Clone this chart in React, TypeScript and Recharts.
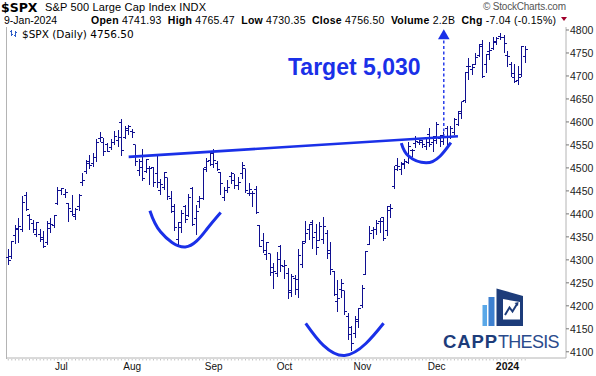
import { Bar, ComposedChart, Line, ReferenceDot, ReferenceLine, XAxis, YAxis } from "recharts"

const ARIAL = "Liberation Sans, Arial, sans-serif"
const VERDANA = "DejaVu Sans, Verdana, sans-serif"
const BAR_COLOR = "#101090"
const MARK_BLUE = "#1a30e8"
const FRAME = "#b4b4b4"

// Daily S&P 500 bars, 9-Jun-2023 .. 9-Jan-2024
const DATES = [
  "2023-06-09", "2023-06-12", "2023-06-13", "2023-06-14", "2023-06-15", "2023-06-16", "2023-06-20", "2023-06-21",
  "2023-06-22", "2023-06-23", "2023-06-26", "2023-06-27", "2023-06-28", "2023-06-29", "2023-06-30",
  "2023-07-03", "2023-07-05", "2023-07-06", "2023-07-07", "2023-07-10", "2023-07-11", "2023-07-12", "2023-07-13",
  "2023-07-14", "2023-07-17", "2023-07-18", "2023-07-19", "2023-07-20", "2023-07-21", "2023-07-24", "2023-07-25",
  "2023-07-26", "2023-07-27", "2023-07-28", "2023-07-31",
  "2023-08-01", "2023-08-02", "2023-08-03", "2023-08-04", "2023-08-07", "2023-08-08", "2023-08-09", "2023-08-10",
  "2023-08-11", "2023-08-14", "2023-08-15", "2023-08-16", "2023-08-17", "2023-08-18", "2023-08-21", "2023-08-22",
  "2023-08-23", "2023-08-24", "2023-08-25", "2023-08-28", "2023-08-29", "2023-08-30", "2023-08-31",
  "2023-09-01", "2023-09-05", "2023-09-06", "2023-09-07", "2023-09-08", "2023-09-11", "2023-09-12", "2023-09-13",
  "2023-09-14", "2023-09-15", "2023-09-18", "2023-09-19", "2023-09-20", "2023-09-21", "2023-09-22", "2023-09-25",
  "2023-09-26", "2023-09-27", "2023-09-28", "2023-09-29",
  "2023-10-02", "2023-10-03", "2023-10-04", "2023-10-05", "2023-10-06", "2023-10-09", "2023-10-10", "2023-10-11",
  "2023-10-12", "2023-10-13", "2023-10-16", "2023-10-17", "2023-10-18", "2023-10-19", "2023-10-20", "2023-10-23",
  "2023-10-24", "2023-10-25", "2023-10-26", "2023-10-27", "2023-10-30", "2023-10-31",
  "2023-11-01", "2023-11-02", "2023-11-03", "2023-11-06", "2023-11-07", "2023-11-08", "2023-11-09", "2023-11-10",
  "2023-11-13", "2023-11-14", "2023-11-15", "2023-11-16", "2023-11-17", "2023-11-20", "2023-11-21", "2023-11-22",
  "2023-11-24", "2023-11-27", "2023-11-28", "2023-11-29", "2023-11-30",
  "2023-12-01", "2023-12-04", "2023-12-05", "2023-12-06", "2023-12-07", "2023-12-08", "2023-12-11", "2023-12-12",
  "2023-12-13", "2023-12-14", "2023-12-15", "2023-12-18", "2023-12-19", "2023-12-20", "2023-12-21", "2023-12-22",
  "2023-12-26", "2023-12-27", "2023-12-28", "2023-12-29",
  "2024-01-02", "2024-01-03", "2024-01-04", "2024-01-05", "2024-01-08", "2024-01-09",
]

const OPEN = [
  4304.9, 4308.3, 4352.6, 4366.3, 4365.3, 4441.0, 4396.1, 4380.0, 4355.4, 4354.2, 4344.8, 4337.4, 4367.5, 4374.9, 4422.4,
  4450.5, 4442.0, 4422.6, 4404.5, 4394.2, 4415.6, 4467.7, 4491.5, 4514.6, 4508.9, 4521.8, 4563.9, 4554.4, 4550.2, 4543.4,
  4555.2, 4559.0, 4598.3, 4565.8, 4584.8,
  4578.8, 4550.9, 4494.3, 4514.0, 4491.6, 4498.0, 4501.6, 4487.2, 4450.7, 4458.1, 4478.9, 4433.8, 4416.3, 4344.9, 4380.3,
  4415.3, 4396.4, 4455.2, 4389.4, 4426.0, 4432.8, 4500.3, 4517.0,
  4530.6, 4510.1, 4490.4, 4434.6, 4451.3, 4481.0, 4473.3, 4462.7, 4487.8, 4498.0, 4445.1, 4445.4, 4452.8, 4374.4, 4341.7,
  4310.6, 4312.9, 4282.6, 4269.7, 4328.2,
  4284.5, 4269.8, 4233.8, 4259.3, 4234.8, 4289.0, 4339.8, 4366.6, 4380.9, 4360.5, 4342.4, 4345.2, 4357.4, 4321.4, 4273.9,
  4210.4, 4235.8, 4232.4, 4176.0, 4152.9, 4139.4, 4171.3,
  4201.3, 4268.3, 4334.2, 4364.3, 4366.2, 4384.4, 4391.4, 4364.2, 4406.7, 4459.0, 4505.3, 4497.1, 4509.6, 4511.7, 4538.8,
  4553.0, 4555.8, 4554.9, 4545.6, 4571.8, 4554.9,
  4559.4, 4564.4, 4557.3, 4586.2, 4568.8, 4576.2, 4593.4, 4618.3, 4646.2, 4721.0, 4714.2, 4725.6, 4743.7, 4764.7, 4724.3,
  4753.9, 4758.9, 4773.5, 4786.4, 4782.9,
  4745.2, 4725.1, 4697.4, 4690.6, 4703.7, 4741.9,
]

const HIGH = [
  4322.6, 4340.1, 4375.4, 4391.8, 4439.2, 4448.5, 4400.2, 4386.2, 4382.3, 4366.6, 4362.1, 4384.4, 4390.4, 4398.4, 4458.5,
  4456.5, 4454.1, 4422.6, 4440.4, 4412.6, 4443.6, 4488.3, 4517.4, 4527.8, 4532.9, 4562.3, 4578.4, 4564.7, 4555.0, 4563.4,
  4580.6, 4582.5, 4607.1, 4590.2, 4594.2,
  4584.6, 4550.9, 4519.5, 4540.3, 4519.8, 4503.3, 4502.4, 4527.4, 4476.2, 4490.3, 4478.9, 4450.0, 4421.2, 4381.8, 4407.6,
  4418.6, 4443.2, 4458.3, 4418.5, 4439.6, 4500.1, 4521.7, 4532.3,
  4541.3, 4514.3, 4490.4, 4457.8, 4473.5, 4490.8, 4487.1, 4479.4, 4512.0, 4498.0, 4466.4, 4449.9, 4461.0, 4375.7, 4357.4,
  4338.5, 4313.0, 4292.1, 4317.3, 4333.2,
  4300.6, 4281.2, 4268.5, 4267.1, 4324.1, 4341.7, 4385.5, 4378.6, 4385.9, 4377.1, 4383.3, 4393.6, 4364.2, 4339.5, 4276.6,
  4255.8, 4259.4, 4232.4, 4183.6, 4156.7, 4177.5, 4195.0,
  4245.6, 4319.7, 4373.6, 4372.2, 4386.3, 4391.2, 4393.4, 4418.0, 4421.8, 4504.1, 4521.2, 4512.0, 4520.1, 4557.1, 4542.1,
  4568.4, 4560.3, 4560.5, 4568.1, 4587.6, 4569.9,
  4599.4, 4572.4, 4578.6, 4590.7, 4590.9, 4609.2, 4623.7, 4643.9, 4709.7, 4738.6, 4725.5, 4749.5, 4768.7, 4778.0, 4748.7,
  4772.9, 4784.7, 4785.4, 4793.3, 4788.4,
  4754.3, 4729.3, 4726.8, 4721.5, 4764.5, 4765.5,
]

const LOW = [
  4291.7, 4304.4, 4337.5, 4337.9, 4362.6, 4407.4, 4367.2, 4360.1, 4351.8, 4341.3, 4328.1, 4335.0, 4360.2, 4372.0, 4422.4,
  4442.3, 4436.6, 4385.1, 4397.4, 4389.9, 4408.5, 4463.2, 4489.4, 4499.6, 4504.9, 4514.6, 4557.5, 4527.6, 4535.8, 4541.3,
  4552.4, 4547.6, 4528.6, 4564.0, 4573.1,
  4567.5, 4505.8, 4485.5, 4474.6, 4491.2, 4464.4, 4461.3, 4457.9, 4444.0, 4453.4, 4432.2, 4403.6, 4364.8, 4335.3, 4360.3,
  4382.8, 4396.4, 4375.6, 4356.3, 4415.0, 4431.7, 4493.6, 4507.4,
  4501.4, 4496.0, 4442.4, 4430.5, 4448.4, 4467.9, 4456.8, 4453.5, 4478.7, 4447.2, 4442.1, 4416.6, 4401.4, 4329.2, 4316.5,
  4302.7, 4266.0, 4238.6, 4264.4, 4274.9,
  4260.2, 4216.5, 4220.5, 4225.9, 4219.6, 4283.8, 4339.6, 4345.3, 4325.4, 4312.0, 4342.4, 4337.5, 4303.8, 4269.7, 4223.0,
  4189.2, 4219.4, 4181.4, 4127.9, 4103.8, 4132.9, 4153.1,
  4197.7, 4268.3, 4334.2, 4347.5, 4355.4, 4359.8, 4343.9, 4353.3, 4393.8, 4456.8, 4495.3, 4487.8, 4499.7, 4510.4, 4525.5,
  4545.1, 4552.8, 4546.3, 4540.5, 4547.2, 4537.2,
  4554.7, 4546.7, 4551.7, 4546.5, 4565.2, 4574.1, 4593.4, 4608.1, 4643.2, 4694.3, 4704.7, 4725.6, 4743.7, 4697.8, 4708.4,
  4736.8, 4758.5, 4768.9, 4781.0, 4752.0,
  4722.7, 4699.7, 4687.5, 4682.1, 4699.8, 4730.4,
]

const CLOSE = [
  4298.9, 4338.9, 4369.0, 4372.6, 4425.8, 4409.6, 4388.7, 4365.7, 4381.9, 4348.3, 4328.8, 4378.4, 4376.9, 4396.4, 4450.4,
  4455.6, 4446.8, 4411.6, 4399.0, 4409.5, 4439.3, 4472.2, 4510.0, 4505.4, 4522.8, 4555.0, 4565.7, 4534.9, 4536.3, 4554.6,
  4567.5, 4566.8, 4537.4, 4582.2, 4589.0,
  4576.7, 4513.4, 4501.9, 4478.0, 4518.4, 4499.4, 4467.7, 4468.8, 4464.1, 4489.7, 4437.9, 4404.3, 4370.4, 4369.7, 4399.8,
  4387.6, 4436.0, 4376.3, 4405.7, 4433.3, 4497.6, 4514.9, 4507.7,
  4515.8, 4496.8, 4465.5, 4451.1, 4457.5, 4487.5, 4461.9, 4467.4, 4505.1, 4450.3, 4453.5, 4444.0, 4402.2, 4330.0, 4320.1,
  4337.4, 4273.5, 4274.5, 4299.7, 4288.1,
  4288.4, 4229.5, 4263.8, 4258.2, 4308.5, 4335.7, 4358.2, 4377.0, 4349.6, 4327.8, 4373.6, 4373.2, 4314.6, 4278.0, 4224.2,
  4217.0, 4247.7, 4186.8, 4137.2, 4117.4, 4166.8, 4193.8,
  4237.9, 4317.8, 4358.3, 4366.0, 4378.4, 4382.8, 4347.4, 4415.2, 4411.6, 4495.7, 4502.9, 4508.2, 4514.0, 4547.4, 4538.2,
  4556.6, 4559.3, 4550.4, 4554.9, 4550.6, 4567.8,
  4594.6, 4569.8, 4567.2, 4549.3, 4585.6, 4604.4, 4622.4, 4643.7, 4707.1, 4719.6, 4719.2, 4740.6, 4768.4, 4698.4, 4746.8,
  4754.6, 4774.8, 4781.6, 4783.4, 4769.8,
  4742.8, 4704.8, 4688.7, 4697.2, 4763.5, 4756.5,
]

const MONTH_LABELS: Record<string, string> = {
  "2023-07-03": "Jul",
  "2023-08-01": "Aug",
  "2023-09-01": "Sep",
  "2023-10-02": "Oct",
  "2023-11-01": "Nov",
  "2023-12-01": "Dec",
  "2024-01-02": "2024",
}

const Y_TICKS = [4100, 4150, 4200, 4250, 4300, 4350, 4400, 4450, 4500, 4550, 4600, 4650, 4700, 4750, 4800]

// hand-drawn annotations as [date, price]
const NECKLINE: [string, number][] = [["2023-07-31", 4524], ["2023-12-11", 4569]]
const ARC_AUG: [string, number][] = [
  ["2023-08-08", 4407], ["2023-08-11", 4361], ["2023-08-22", 4328], ["2023-08-30", 4366], ["2023-09-06", 4403],
]
const ARC_OCT: [string, number][] = [
  ["2023-10-10", 4162], ["2023-10-17", 4114], ["2023-10-25", 4092], ["2023-11-02", 4118], ["2023-11-09", 4162],
]
const ARC_DEC: [string, number][] = [
  ["2023-11-16", 4554], ["2023-11-20", 4526], ["2023-11-28", 4511], ["2023-12-04", 4526], ["2023-12-07", 4555],
]
const TARGET_ARROW: [string, number, number] = ["2023-12-05", 4567, 4780]

const rows = DATES.map((date, i) => {
  const row: Record<string, unknown> = {
    date,
    range: [LOW[i], HIGH[i]],
    open: OPEN[i],
    high: HIGH[i],
    low: LOW[i],
    close: CLOSE[i],
  }
  for (const [key, pts] of [["arcAug", ARC_AUG], ["arcOct", ARC_OCT], ["arcDec", ARC_DEC]] as const) {
    const hit = pts.find((p) => p[0] === date)
    if (hit) row[key] = hit[1]
  }
  return row
})

function OhlcBar(props: any) {
  const { x, y, width, height, payload } = props
  if (!payload || height == null) return null
  const top = Math.min(y, y + height)
  const bottom = Math.max(y, y + height)
  const span = payload.high - payload.low || 1
  const toY = (v: number) => Math.round(top + ((payload.high - v) / span) * (bottom - top) - 0.5) + 0.5
  const cx = Math.floor(x + width / 2) + 0.5
  return (
    <g stroke={BAR_COLOR} strokeWidth={1}>
      <line x1={cx} x2={cx} y1={Math.round(top)} y2={Math.round(bottom) + 1} />
      <line x1={cx - 2.5} x2={cx} y1={toY(payload.open)} y2={toY(payload.open)} />
      <line x1={cx} x2={cx + 2.5} y1={toY(payload.close)} y2={toY(payload.close)} />
    </g>
  )
}

function DayTick({ x, y, payload }: any) {
  const label = MONTH_LABELS[payload.value]
  return (
    <g>
      <line x1={x} x2={x} y1={y + 1} y2={y + 2.5} stroke="#c4c4c4" />
      {label ? (
        <text
          x={x}
          y={y + 12}
          textAnchor="middle"
          fontFamily={ARIAL}
          fontSize={label === "2024" ? 10.5 : 10}
          fontWeight={label === "2024" ? "bold" : "normal"}
          fill="#111"
        >
          {label}
        </text>
      ) : null}
    </g>
  )
}

function ArrowHead({ cx, cy }: any) {
  return <path d={`M${cx - 5.8},${cy} L${cx + 5.8},${cy} L${cx},${cy - 10} Z`} fill={MARK_BLUE} />
}

function Header() {
  const bold = { fontWeight: "bold" as const }
  return (
    <svg width={596} height={376} style={{ position: "absolute", left: 0, top: 0, pointerEvents: "none" }}>
      <text x={1} y={11.5} fontFamily={VERDANA} fontWeight="bold" fontSize={12.5}>$SPX</text>
      <text x={45} y={11} fontFamily={ARIAL} fontSize={11} textLength={161} lengthAdjust="spacing">
        {"S&P 500 Large Cap Index INDX"}
      </text>
      <text x={483} y={10} fontFamily={ARIAL} fontSize={10} fill="#555" textLength={83}>{"\u00a9 StockCharts.com"}</text>

      <text x={4} y={23.5} fontFamily={ARIAL} fontSize={10.5}>9-Jan-2024</text>
      <text
        x={91}
        y={23.5}
        fontFamily={ARIAL}
        fontSize={10.5}
        textLength={465}
        lengthAdjust="spacing"
        style={{ whiteSpace: "pre" }}
      >
        <tspan {...bold}>Open</tspan>
        <tspan>{" 4741.93  "}</tspan>
        <tspan {...bold}>High</tspan>
        <tspan>{" 4765.47  "}</tspan>
        <tspan {...bold}>Low</tspan>
        <tspan>{" 4730.35  "}</tspan>
        <tspan {...bold}>Close</tspan>
        <tspan>{" 4756.50  "}</tspan>
        <tspan {...bold}>Volume</tspan>
        <tspan>{" 2.2B  "}</tspan>
        <tspan {...bold}>Chg</tspan>
        <tspan>{" -7.04 (-0.15%)"}</tspan>
      </text>
      <path d="M561,17 L567,17 L564,21 Z" fill="#a0002a" />

      <g stroke="#2c5cc8" strokeWidth={1}>
        <line x1={11.5} x2={11.5} y1={30} y2={36} />
        <line x1={10} x2={11.5} y1={31.5} y2={31.5} />
        <line x1={11.5} x2={13} y1={34.5} y2={34.5} />
        <line x1={15.5} x2={15.5} y1={31} y2={37} />
        <line x1={14} x2={15.5} y1={35.5} y2={35.5} />
        <line x1={15.5} x2={17} y1={32.5} y2={32.5} />
      </g>
      <text x={22} y={37.5} fontFamily={VERDANA} fontSize={10.5}>$SPX (Daily) 4756.50</text>

      <text x={288} y={75} fontFamily={ARIAL} fontWeight="bold" fontSize={23} fill={MARK_BLUE}>Target 5,030</text>

      {/* CAPPTHESIS logo */}
      <rect x={482.5} y={305} width={4.5} height={21} fill="#5aa8e8" />
      <rect x={488.5} y={297} width={6} height={29} fill="#3d80d0" />
      <path d="M496.5,288.5 L523,296 L523,326 L496.5,326 Z" fill="#1d3c7a" />
      <path d="M503,299 L520,302 L520,319.5 L503,319.5 Z" fill="#fff" />
      <path d="M505,315 L509.5,307.5 L512.5,311.5 L517,304" fill="none" stroke="#1d3c7a" strokeWidth={2} />
      <path d="M514.5,303 L518.5,302 L518,306 Z" fill="#1d3c7a" />
      <text x={443} y={348} fontFamily={ARIAL} fontWeight="bold" fontSize={18.5} fill="#1d3c7a" textLength={54}>CAPP</text>
      <text x={498} y={348} fontFamily={ARIAL} fontSize={18} fill="#2a4b8c" textLength={61.5}>THESIS</text>
    </svg>
  )
}

export default function App() {
  return (
    <div style={{ position: "relative", width: 596, height: 376, background: "#fff" }}>
      <style>{"body{margin:0}"}</style>
      <div style={{ position: "absolute", left: 6, top: 27, width: 1, height: 332, background: FRAME }} />
      <ComposedChart
        width={596}
        height={376}
        data={rows}
        margin={{ top: 27, right: 0, bottom: 0, left: 6 }}
        barCategoryGap="10%"
      >
        <XAxis
          dataKey="date"
          interval={0}
          tickLine={false}
          tickSize={0}
          tickMargin={0}
          height={18}
          padding={{ left: 0.5, right: 39 }}
          axisLine={{ stroke: FRAME }}
          tick={<DayTick />}
        />
        <YAxis
          orientation="right"
          type="number"
          domain={[4086.5, 4806.5]}
          ticks={Y_TICKS}
          interval={0}
          allowDataOverflow
          width={30}
          tickSize={3}
          tickMargin={1}
          axisLine={{ stroke: FRAME }}
          tickLine={{ stroke: "#777" }}
          tick={{ fontSize: 10.5, fill: "#222", fontFamily: ARIAL }}
        />
        <Bar dataKey="range" shape={<OhlcBar />} isAnimationActive={false} />
        <ReferenceLine
          segment={NECKLINE.map(([x, y]) => ({ x, y }))}
          stroke={MARK_BLUE}
          strokeWidth={2.6}
        />
        <Line dataKey="arcAug" type="natural" connectNulls dot={false} stroke={MARK_BLUE} strokeWidth={3} isAnimationActive={false} />
        <Line dataKey="arcOct" type="natural" connectNulls dot={false} stroke={MARK_BLUE} strokeWidth={3} isAnimationActive={false} />
        <Line dataKey="arcDec" type="natural" connectNulls dot={false} stroke={MARK_BLUE} strokeWidth={3} isAnimationActive={false} />
        <ReferenceLine
          segment={[
            { x: TARGET_ARROW[0], y: TARGET_ARROW[1] },
            { x: TARGET_ARROW[0], y: TARGET_ARROW[2] },
          ]}
          stroke={MARK_BLUE}
          strokeWidth={1.4}
          strokeDasharray="3 2.5"
        />
        <ReferenceDot x={TARGET_ARROW[0]} y={TARGET_ARROW[2]} r={6} shape={<ArrowHead />} />
      </ComposedChart>
      <Header />
    </div>
  )
}
